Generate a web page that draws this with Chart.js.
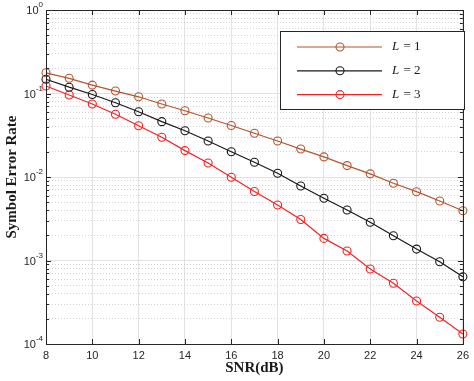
<!DOCTYPE html>
<html>
<head>
<meta charset="utf-8">
<script src="https://cdn.jsdelivr.net/npm/chart.js@4.4.0/dist/chart.umd.min.js"></script>
<style>
  html, body { margin: 0; padding: 0; background: #fff; }
</style>
</head>
<body>
<canvas id="myChart" width="474" height="381"></canvas>
<script>
// data
var snr = [8, 9, 10, 11, 12, 13, 14, 15, 16, 17, 18, 19, 20, 21, 22, 23, 24, 25, 26];
var serL1 = [0.177, 0.152, 0.126, 0.107, 0.0913, 0.0748, 0.0622, 0.0509, 0.0414, 0.0334, 0.0270, 0.0216, 0.0174, 0.0137, 0.0109, 0.00841, 0.00667, 0.00516, 0.00395];
var serL2 = [0.148, 0.119, 0.0973, 0.0776, 0.0605, 0.0460, 0.0358, 0.0270, 0.0201, 0.0150, 0.0111, 0.00780, 0.00556, 0.00403, 0.00287, 0.00198, 0.00137, 0.000968, 0.000640];
var serL3 = [0.123, 0.0960, 0.0748, 0.0564, 0.0411, 0.0299, 0.0207, 0.0147, 0.00992, 0.00670, 0.00462, 0.00310, 0.00184, 0.00130, 0.000791, 0.000533, 0.000327, 0.000209, 0.000132];
var seriesNames = ['1', '2', '3'];
var seriesColors = ['#b5552f', '#1a1a1a', '#f02424'];
var yExponents = [-4, -3, -2, -1, 0];

var serData = [serL1, serL2, serL3];
var datasets = serData.map(function (vals, i) {
  return {
    label: 'L = ' + seriesNames[i],
    data: vals.map(function (v, j) { return { x: snr[j], y: v }; }),
    borderColor: seriesColors[i],
    borderWidth: 1.2,
    pointStyle: 'circle',
    pointRadius: 4,
    pointBorderWidth: 1.1,
    pointBackgroundColor: 'rgba(0,0,0,0)',
    pointBorderColor: seriesColors[i],
    fill: false,
    tension: 0,
    clip: 10
  };
});

// inward ticks, box and superscript y labels
var framePlugin = {
  id: 'frame',
  afterDraw: function (chart) {
    var ctx = chart.ctx;
    var a = chart.chartArea;
    var xs = chart.scales.x, ys = chart.scales.y;
    ctx.save();
    ctx.strokeStyle = '#262626';
    ctx.lineWidth = 1;
    ctx.beginPath();
    xs.ticks.forEach(function (t) {
      var px = Math.round(xs.getPixelForValue(t.value)) + 0.5;
      ctx.moveTo(px, a.bottom); ctx.lineTo(px, a.bottom - 5);
      ctx.moveTo(px, a.top); ctx.lineTo(px, a.top + 5);
    });
    ys.ticks.forEach(function (t) {
      var py = Math.round(ys.getPixelForValue(t.value)) + 0.5;
      var len = t.major ? 5 : 3;
      ctx.moveTo(a.left, py); ctx.lineTo(a.left + len, py);
      ctx.moveTo(a.right, py); ctx.lineTo(a.right - len, py);
    });
    ctx.stroke();
    ctx.strokeRect(Math.round(a.left) + 0.5, Math.round(a.top) + 0.5, Math.round(a.right - a.left), Math.round(a.bottom - a.top));

    ctx.fillStyle = '#262626';
    ctx.textBaseline = 'middle';
    yExponents.forEach(function (e) {
      var py = ys.getPixelForValue(Math.pow(10, e));
      var ex = String(e);
      ctx.font = '8px "Liberation Sans", Arial, sans-serif';
      var ew = ctx.measureText(ex).width;
      var xr = 43;
      ctx.textAlign = 'left';
      ctx.fillText(ex, xr - ew, py - 5);
      ctx.font = '11px "Liberation Sans", Arial, sans-serif';
      ctx.textAlign = 'right';
      ctx.fillText('10', xr - ew, py + 1);
    });
    ctx.restore();
  }
};

// legend box drawn inside the plot
var legendPlugin = {
  id: 'boxLegend',
  afterDraw: function (chart) {
    var ctx = chart.ctx;
    var bx = 280.5, by = 31.5, bw = 184, bh = 78;
    ctx.save();
    ctx.fillStyle = '#ffffff';
    ctx.fillRect(bx, by, bw, bh);
    ctx.strokeStyle = '#262626';
    ctx.lineWidth = 1;
    ctx.strokeRect(bx, by, bw, bh);
    chart.data.datasets.forEach(function (ds, i) {
      var ry = 47 + i * 23.8;
      ctx.strokeStyle = ds.borderColor;
      ctx.lineWidth = 1.2;
      ctx.beginPath();
      ctx.moveTo(297, ry); ctx.lineTo(382, ry);
      ctx.stroke();
      ctx.beginPath();
      ctx.lineWidth = 1.1;
      ctx.arc(340, ry, 4, 0, Math.PI * 2);
      ctx.stroke();
      ctx.fillStyle = '#1a1a1a';
      ctx.textBaseline = 'middle';
      ctx.textAlign = 'left';
      ctx.font = 'italic 13px "Liberation Serif", "Times New Roman", serif';
      ctx.fillText('L', 392, ry);
      var lw = ctx.measureText('L').width;
      ctx.font = '13px "Liberation Serif", "Times New Roman", serif';
      ctx.fillText(' = ' + seriesNames[i], 392 + lw + 1, ry);
    });
    ctx.restore();
  }
};

var ctx = document.getElementById('myChart').getContext('2d');
var myChart = new Chart(ctx, {
  type: 'line',
  data: { datasets: datasets },
  options: {
    responsive: false,
    animation: false,
    devicePixelRatio: 1,
    layout: { padding: { top: 10, right: 9, left: 0, bottom: 0 } },
    plugins: {
      legend: { display: false },
      tooltip: { enabled: false }
    },
    scales: {
      x: {
        type: 'linear',
        min: 8,
        max: 26,
        afterFit: function (s) { s.height = 37; },
        ticks: {
          stepSize: 2,
          padding: 5,
          color: '#262626',
          font: { family: '"Liberation Sans", Arial, sans-serif', size: 11 }
        },
        grid: { color: '#e2e2e2', lineWidth: 1, drawTicks: false },
        border: { display: false },
        title: {
          display: true,
          text: 'SNR(dB)',
          color: '#1a1a1a',
          padding: { top: 0, bottom: 4 },
          font: { family: '"Liberation Serif", "Times New Roman", serif', size: 15, weight: 'bold' }
        }
      },
      y: {
        type: 'logarithmic',
        min: 1e-4,
        max: 1,
        afterFit: function (s) { s.width = 46; },
        afterBuildTicks: function (s) {
          var t = [];
          yExponents.forEach(function (e) {
            if (e === 0) { t.push({ value: 1, major: true }); return; }
            for (var m = 1; m <= 9; m++) {
              t.push({ value: m * Math.pow(10, e), major: m === 1 });
            }
          });
          s.ticks = t;
        },
        ticks: { display: false },
        grid: {
          drawTicks: false,
          color: function (c) { return c.tick && c.tick.major ? '#e2e2e2' : '#d2d2d2'; },
          lineWidth: 1
        },
        border: {
          display: false,
          dash: function (c) { return c.tick && !c.tick.major ? [1, 2] : []; }
        },
        title: {
          display: true,
          text: 'Symbol Error Rate',
          color: '#1a1a1a',
          padding: { top: 3, bottom: 0 },
          font: { family: '"Liberation Serif", "Times New Roman", serif', size: 15, weight: 'bold' }
        }
      }
    }
  },
  plugins: [framePlugin, legendPlugin]
});
</script>
</body>
</html>
